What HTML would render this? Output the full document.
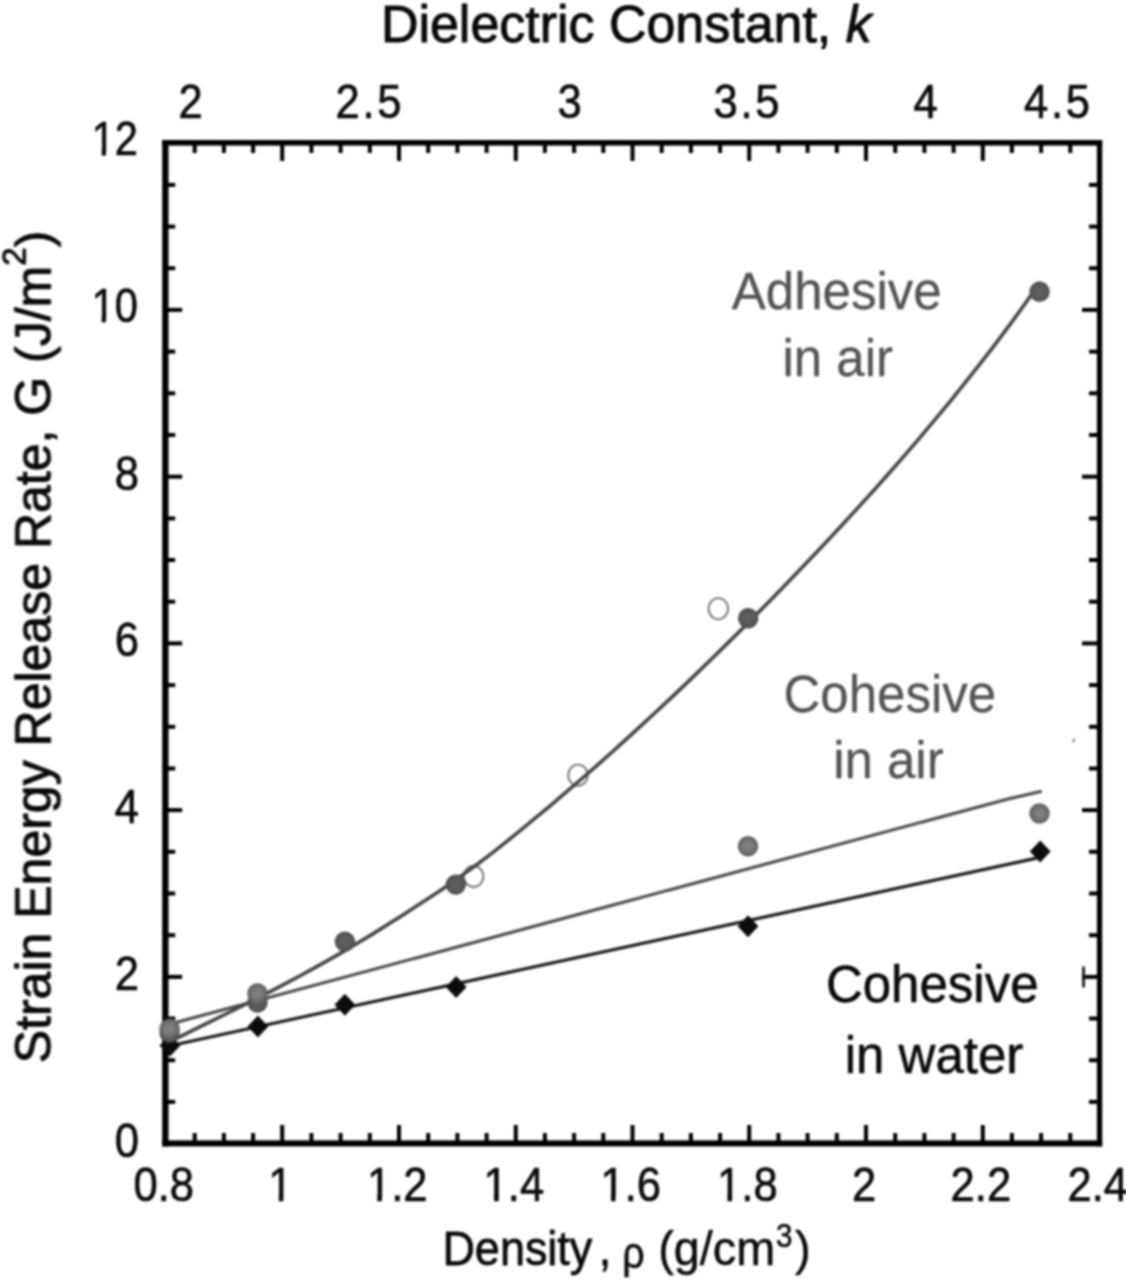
<!DOCTYPE html>
<html lang="en"><head><meta charset="utf-8"><title>Strain Energy Release Rate vs Density</title>
<style>
html,body{margin:0;padding:0;background:#fff;}
body{width:1126px;height:1280px;overflow:hidden;}
svg{display:block;font-family:"Liberation Sans",Arial,sans-serif;}
text{stroke-linejoin:round;}
.tk{font-size:49px;fill:#0a0a0a;stroke:#0a0a0a;stroke-width:0.7;}
.tt{font-size:49px;fill:#0a0a0a;stroke:#0a0a0a;stroke-width:0.7;letter-spacing:3px;}
.ti{font-size:51.5px;fill:#0a0a0a;stroke:#0a0a0a;stroke-width:1;}
.an{font-size:51px;stroke-width:0.9;}
.g{fill:#545454;stroke:#545454;stroke-width:0.3;}
.k{fill:#0a0a0a;stroke:#0a0a0a;stroke-width:0.6;}
</style></head><body>
<svg width="1126" height="1280" viewBox="0 0 1126 1280">
<defs><radialGradient id="gc"><stop offset="0" stop-color="#858585"/><stop offset="0.55" stop-color="#787878"/><stop offset="1" stop-color="#5c5c5c"/></radialGradient><radialGradient id="ga"><stop offset="0" stop-color="#606060"/><stop offset="0.6" stop-color="#5a5a5a"/><stop offset="1" stop-color="#4c4c4c"/></radialGradient><filter id="soft" color-interpolation-filters="sRGB" x="-2%" y="-2%" width="104%" height="104%"><feGaussianBlur stdDeviation="1.0"/></filter></defs>
<rect width="1126" height="1280" fill="#fff"/>
<g filter="url(#soft)">
<g fill="#000">
<rect x="162.2" y="140" width="6.3" height="1006.4"/>
<rect x="162.2" y="140" width="940" height="5.6"/>
<rect x="162.2" y="1140.4" width="940" height="6"/>
<rect x="1096.9" y="140" width="5.3" height="1006.4"/>
<rect x="192.7" y="1133.0" width="4.0" height="8"/>
<rect x="192.7" y="145" width="4.0" height="8"/>
<rect x="221.9" y="1133.0" width="4.0" height="8"/>
<rect x="221.9" y="145" width="4.0" height="8"/>
<rect x="251.1" y="1133.0" width="4.0" height="8"/>
<rect x="251.1" y="145" width="4.0" height="8"/>
<rect x="280.2" y="1125.0" width="4.0" height="16"/>
<rect x="280.2" y="145" width="4.0" height="16"/>
<rect x="309.4" y="1133.0" width="4.0" height="8"/>
<rect x="309.4" y="145" width="4.0" height="8"/>
<rect x="338.6" y="1133.0" width="4.0" height="8"/>
<rect x="338.6" y="145" width="4.0" height="8"/>
<rect x="367.8" y="1133.0" width="4.0" height="8"/>
<rect x="367.8" y="145" width="4.0" height="8"/>
<rect x="397.0" y="1125.0" width="4.0" height="16"/>
<rect x="397.0" y="145" width="4.0" height="16"/>
<rect x="426.2" y="1133.0" width="4.0" height="8"/>
<rect x="426.2" y="145" width="4.0" height="8"/>
<rect x="455.4" y="1133.0" width="4.0" height="8"/>
<rect x="455.4" y="145" width="4.0" height="8"/>
<rect x="484.6" y="1133.0" width="4.0" height="8"/>
<rect x="484.6" y="145" width="4.0" height="8"/>
<rect x="513.8" y="1125.0" width="4.0" height="16"/>
<rect x="513.8" y="145" width="4.0" height="16"/>
<rect x="542.9" y="1133.0" width="4.0" height="8"/>
<rect x="542.9" y="145" width="4.0" height="8"/>
<rect x="572.1" y="1133.0" width="4.0" height="8"/>
<rect x="572.1" y="145" width="4.0" height="8"/>
<rect x="601.3" y="1133.0" width="4.0" height="8"/>
<rect x="601.3" y="145" width="4.0" height="8"/>
<rect x="630.5" y="1125.0" width="4.0" height="16"/>
<rect x="630.5" y="145" width="4.0" height="16"/>
<rect x="659.7" y="1133.0" width="4.0" height="8"/>
<rect x="659.7" y="145" width="4.0" height="8"/>
<rect x="688.9" y="1133.0" width="4.0" height="8"/>
<rect x="688.9" y="145" width="4.0" height="8"/>
<rect x="718.1" y="1133.0" width="4.0" height="8"/>
<rect x="718.1" y="145" width="4.0" height="8"/>
<rect x="747.2" y="1125.0" width="4.0" height="16"/>
<rect x="747.2" y="145" width="4.0" height="16"/>
<rect x="776.4" y="1133.0" width="4.0" height="8"/>
<rect x="776.4" y="145" width="4.0" height="8"/>
<rect x="805.6" y="1133.0" width="4.0" height="8"/>
<rect x="805.6" y="145" width="4.0" height="8"/>
<rect x="834.8" y="1133.0" width="4.0" height="8"/>
<rect x="834.8" y="145" width="4.0" height="8"/>
<rect x="864.0" y="1125.0" width="4.0" height="16"/>
<rect x="864.0" y="145" width="4.0" height="16"/>
<rect x="893.2" y="1133.0" width="4.0" height="8"/>
<rect x="893.2" y="145" width="4.0" height="8"/>
<rect x="922.4" y="1133.0" width="4.0" height="8"/>
<rect x="922.4" y="145" width="4.0" height="8"/>
<rect x="951.6" y="1133.0" width="4.0" height="8"/>
<rect x="951.6" y="145" width="4.0" height="8"/>
<rect x="980.8" y="1125.0" width="4.0" height="16"/>
<rect x="980.8" y="145" width="4.0" height="16"/>
<rect x="1009.9" y="1133.0" width="4.0" height="8"/>
<rect x="1009.9" y="145" width="4.0" height="8"/>
<rect x="1039.1" y="1133.0" width="4.0" height="8"/>
<rect x="1039.1" y="145" width="4.0" height="8"/>
<rect x="1068.3" y="1133.0" width="4.0" height="8"/>
<rect x="1068.3" y="145" width="4.0" height="8"/>
<rect x="168" y="1099.9" width="7.2" height="4.0"/>
<rect x="1089.0" y="1099.9" width="9.0" height="4.0"/>
<rect x="168" y="1058.2" width="7.2" height="4.0"/>
<rect x="1089.0" y="1058.2" width="9.0" height="4.0"/>
<rect x="168" y="1016.5" width="7.2" height="4.0"/>
<rect x="1089.0" y="1016.5" width="9.0" height="4.0"/>
<rect x="168" y="974.9" width="14.2" height="4.0"/>
<rect x="1082.0" y="974.9" width="16.0" height="4.0"/>
<rect x="168" y="933.2" width="7.2" height="4.0"/>
<rect x="1089.0" y="933.2" width="9.0" height="4.0"/>
<rect x="168" y="891.5" width="7.2" height="4.0"/>
<rect x="1089.0" y="891.5" width="9.0" height="4.0"/>
<rect x="168" y="849.8" width="7.2" height="4.0"/>
<rect x="1089.0" y="849.8" width="9.0" height="4.0"/>
<rect x="168" y="808.1" width="14.2" height="4.0"/>
<rect x="1082.0" y="808.1" width="16.0" height="4.0"/>
<rect x="168" y="766.5" width="7.2" height="4.0"/>
<rect x="1089.0" y="766.5" width="9.0" height="4.0"/>
<rect x="168" y="724.8" width="7.2" height="4.0"/>
<rect x="1089.0" y="724.8" width="9.0" height="4.0"/>
<rect x="168" y="683.1" width="7.2" height="4.0"/>
<rect x="1089.0" y="683.1" width="9.0" height="4.0"/>
<rect x="168" y="641.4" width="14.2" height="4.0"/>
<rect x="1082.0" y="641.4" width="16.0" height="4.0"/>
<rect x="168" y="599.7" width="7.2" height="4.0"/>
<rect x="1089.0" y="599.7" width="9.0" height="4.0"/>
<rect x="168" y="558.0" width="7.2" height="4.0"/>
<rect x="1089.0" y="558.0" width="9.0" height="4.0"/>
<rect x="168" y="516.4" width="7.2" height="4.0"/>
<rect x="1089.0" y="516.4" width="9.0" height="4.0"/>
<rect x="168" y="474.7" width="14.2" height="4.0"/>
<rect x="1082.0" y="474.7" width="16.0" height="4.0"/>
<rect x="168" y="433.0" width="7.2" height="4.0"/>
<rect x="1089.0" y="433.0" width="9.0" height="4.0"/>
<rect x="168" y="391.3" width="7.2" height="4.0"/>
<rect x="1089.0" y="391.3" width="9.0" height="4.0"/>
<rect x="168" y="349.6" width="7.2" height="4.0"/>
<rect x="1089.0" y="349.6" width="9.0" height="4.0"/>
<rect x="168" y="307.9" width="14.2" height="4.0"/>
<rect x="1082.0" y="307.9" width="16.0" height="4.0"/>
<rect x="168" y="266.2" width="7.2" height="4.0"/>
<rect x="1089.0" y="266.2" width="9.0" height="4.0"/>
<rect x="168" y="224.6" width="7.2" height="4.0"/>
<rect x="1089.0" y="224.6" width="9.0" height="4.0"/>
<rect x="168" y="182.9" width="7.2" height="4.0"/>
<rect x="1089.0" y="182.9" width="9.0" height="4.0"/>
<rect x="1082.2" y="966.5" width="2.7" height="21" fill="#111"/>
</g>
<path d="M165.5 1025.3 L1008 798.9 L1040.6 791.6" fill="none" stroke="#484848" stroke-width="3.1" stroke-linecap="round" stroke-linejoin="round"/>
<line x1="165.5" y1="1046.7" x2="1040.0" y2="857.4" stroke="#1a1a1a" stroke-width="3.2" stroke-linecap="round"/>
<ellipse cx="473.6" cy="876.4" rx="9.7" ry="10.6" fill="none" stroke="#747474" stroke-width="1.9"/>
<ellipse cx="578.0" cy="775.2" rx="9.7" ry="10.6" fill="none" stroke="#747474" stroke-width="1.9"/>
<ellipse cx="718.3" cy="608.7" rx="9.7" ry="10.6" fill="none" stroke="#747474" stroke-width="1.9"/>
<path d="M165.5 1044.0 L180.3 1036.6 L195.1 1029.2 L209.9 1021.9 L224.8 1014.5 L239.6 1007.1 L254.4 999.7 L269.2 992.1 L284.0 984.4 L298.8 976.5 L313.6 968.4 L328.4 960.1 L343.3 951.6 L358.1 942.8 L372.9 933.9 L387.7 924.6 L402.5 915.2 L417.3 905.6 L432.1 895.9 L447.0 885.9 L461.8 875.5 L476.6 864.8 L491.4 853.6 L506.2 841.9 L521.0 829.9 L535.8 817.7 L550.7 805.3 L565.5 792.7 L580.3 780.0 L595.1 767.1 L609.9 754.0 L624.7 740.7 L639.5 727.2 L654.3 713.5 L669.2 699.6 L684.0 685.6 L698.8 671.4 L713.6 657.0 L728.4 642.4 L743.2 627.7 L758.0 612.8 L772.9 597.8 L787.7 582.5 L802.5 567.1 L817.3 551.6 L832.1 535.8 L846.9 519.8 L861.7 503.6 L876.6 487.2 L891.4 470.5 L906.2 453.6 L921.0 436.3 L935.8 418.7 L950.6 400.8 L965.4 382.4 L980.2 363.7 L995.1 344.4 L1009.9 324.6 L1024.7 304.2 L1039.5 283.2" fill="none" stroke="#444" stroke-width="3.6" stroke-linecap="round" stroke-linejoin="round"/>
<path d="M1072.5 742 L1075 738.8" stroke="#666" stroke-width="1.6" fill="none"/>
<path d="M159.6 1045.5L170.0 1034.5L180.4 1045.5L170.0 1056.5Z" fill="#0c0c0c"/>
<path d="M247.5 1026.6L257.9 1015.6L268.3 1026.6L257.9 1037.6Z" fill="#0c0c0c"/>
<path d="M334.5 1004.7L344.9 993.7L355.3 1004.7L344.9 1015.7Z" fill="#0c0c0c"/>
<path d="M445.8 987.0L456.2 976.0L466.6 987.0L456.2 998.0Z" fill="#0c0c0c"/>
<path d="M737.6 926.2L748.0 915.2L758.4 926.2L748.0 937.2Z" fill="#0c0c0c"/>
<path d="M1029.8 851.5L1040.2 840.5L1050.6 851.5L1040.2 862.5Z" fill="#0c0c0c"/>
<circle cx="169.6" cy="1032.8" r="10.2" fill="url(#ga)"/>
<circle cx="257.5" cy="1002.5" r="10.2" fill="url(#ga)"/>
<circle cx="344.9" cy="941.6" r="10.2" fill="url(#ga)"/>
<circle cx="455.8" cy="884.6" r="10.2" fill="url(#ga)"/>
<circle cx="748.2" cy="618.2" r="10.2" fill="url(#ga)"/>
<circle cx="1039.5" cy="291.8" r="10.2" fill="url(#ga)"/>
<circle cx="169.6" cy="1028.8" r="10.2" fill="url(#gc)"/>
<circle cx="257.5" cy="993.5" r="10.2" fill="url(#gc)"/>
<circle cx="748.0" cy="846.2" r="10.2" fill="url(#gc)"/>
<circle cx="1039.5" cy="813.5" r="10.2" fill="url(#gc)"/>
<g transform="translate(133.4 1200.7) scale(0.89 1)">
<text class="tk" x="0" y="0">0.8</text>
</g>
<g transform="translate(268.3 1200.7) scale(0.89 1)">
<text class="tk" x="0" y="0">1</text>
<rect x="2.0" y="-4.5" width="9.9" height="6.0" fill="#fff"/>
<rect x="16.8" y="-4.5" width="9.8" height="6.0" fill="#fff"/>
<rect x="11.9" y="-6.5" width="4.9" height="6.8" fill="#0a0a0a"/>
</g>
<g transform="translate(366.9 1200.7) scale(0.89 1)">
<text class="tk" x="0" y="0">1.2</text>
<rect x="2.0" y="-4.5" width="9.9" height="6.0" fill="#fff"/>
<rect x="16.8" y="-4.5" width="9.8" height="6.0" fill="#fff"/>
<rect x="11.9" y="-6.5" width="4.9" height="6.8" fill="#0a0a0a"/>
</g>
<g transform="translate(483.6 1200.7) scale(0.89 1)">
<text class="tk" x="0" y="0">1.4</text>
<rect x="2.0" y="-4.5" width="9.9" height="6.0" fill="#fff"/>
<rect x="16.8" y="-4.5" width="9.8" height="6.0" fill="#fff"/>
<rect x="11.9" y="-6.5" width="4.9" height="6.8" fill="#0a0a0a"/>
</g>
<g transform="translate(600.4 1200.7) scale(0.89 1)">
<text class="tk" x="0" y="0">1.6</text>
<rect x="2.0" y="-4.5" width="9.9" height="6.0" fill="#fff"/>
<rect x="16.8" y="-4.5" width="9.8" height="6.0" fill="#fff"/>
<rect x="11.9" y="-6.5" width="4.9" height="6.8" fill="#0a0a0a"/>
</g>
<g transform="translate(717.1 1200.7) scale(0.89 1)">
<text class="tk" x="0" y="0">1.8</text>
<rect x="2.0" y="-4.5" width="9.9" height="6.0" fill="#fff"/>
<rect x="16.8" y="-4.5" width="9.8" height="6.0" fill="#fff"/>
<rect x="11.9" y="-6.5" width="4.9" height="6.8" fill="#0a0a0a"/>
</g>
<g transform="translate(852.1 1200.7) scale(0.89 1)">
<text class="tk" x="0" y="0">2</text>
</g>
<g transform="translate(950.6 1200.7) scale(0.89 1)">
<text class="tk" x="0" y="0">2.2</text>
</g>
<g transform="translate(1067.4 1200.7) scale(0.89 1)">
<text class="tk" x="0" y="0">2.4</text>
</g>
<g transform="translate(178.4 117.6) scale(0.89 1)">
<text class="tt" x="0" y="0">2</text>
</g>
<g transform="translate(335.5 117.6) scale(0.89 1)">
<text class="tt" x="0" y="0">2.5</text>
</g>
<g transform="translate(557.4 117.6) scale(0.89 1)">
<text class="tt" x="0" y="0">3</text>
</g>
<g transform="translate(713.5 117.6) scale(0.89 1)">
<text class="tt" x="0" y="0">3.5</text>
</g>
<g transform="translate(913.4 117.6) scale(0.89 1)">
<text class="tt" x="0" y="0">4</text>
</g>
<g transform="translate(1024.0 117.6) scale(0.89 1)">
<text class="tt" x="0" y="0">4.5</text>
</g>
<g transform="translate(114.8 1156.6) scale(0.89 1)">
<text class="tk" x="0" y="0">0</text>
</g>
<g transform="translate(114.8 989.9) scale(0.89 1)">
<text class="tk" x="0" y="0">2</text>
</g>
<g transform="translate(114.8 823.1) scale(0.89 1)">
<text class="tk" x="0" y="0">4</text>
</g>
<g transform="translate(114.8 656.4) scale(0.89 1)">
<text class="tk" x="0" y="0">6</text>
</g>
<g transform="translate(114.8 489.7) scale(0.89 1)">
<text class="tk" x="0" y="0">8</text>
</g>
<g transform="translate(91.7 321.8) scale(0.85 1)">
<text class="tk" x="0" y="0">10</text>
<rect x="2.0" y="-4.5" width="9.9" height="6.0" fill="#fff"/>
<rect x="16.8" y="-4.5" width="9.8" height="6.0" fill="#fff"/>
<rect x="11.9" y="-6.5" width="4.9" height="6.8" fill="#0a0a0a"/>
</g>
<g transform="translate(91.7 155.1) scale(0.85 1)">
<text class="tk" x="0" y="0">12</text>
<rect x="2.0" y="-4.5" width="9.9" height="6.0" fill="#fff"/>
<rect x="16.8" y="-4.5" width="9.8" height="6.0" fill="#fff"/>
<rect x="11.9" y="-6.5" width="4.9" height="6.8" fill="#0a0a0a"/>
</g>
<g transform="translate(626.3 41.8) scale(1.009 1)"><text class="ti" x="0" y="0" text-anchor="middle">Dielectric Constant, <tspan font-style="italic">k</tspan></text></g>
<g transform="translate(442.4 1264.8) scale(0.918 1)"><text class="ti" style="font-size:49px;stroke-width:0.8" x="0" y="0">Density<tspan dx="7">,</tspan></text></g>
<g transform="translate(622.3 1267.6) scale(0.9 1)"><text class="ti" style="font-size:44px;stroke-width:0.5" x="0" y="0">ρ</text></g>
<g transform="translate(658.2 1265.4) scale(0.985 1)"><text class="ti" style="font-size:47.5px;stroke-width:0.5" x="0" y="0">(g/cm</text></g>
<g transform="translate(776 1247.2) scale(0.87 1)"><text class="ti" style="font-size:34px;stroke-width:0.6" x="0" y="0">3</text></g>
<text class="ti" style="font-size:47.5px;stroke-width:0.4" x="795" y="1265.4">)</text>
<text class="ti" style="font-size:50px" transform="translate(50.5 647) rotate(-90)" text-anchor="middle">Strain Energy Release Rate, G (J/m<tspan dy="-25" style="font-size:33px">2</tspan><tspan dy="25">)</tspan></text>
<text class="an g" x="836.7" y="309.2" text-anchor="middle">Adhesive</text>
<text class="an g" x="837.7" y="375.7" text-anchor="middle">in air</text>
<text class="an g" x="889.8" y="711.8" text-anchor="middle">Cohesive</text>
<text class="an g" x="888.4" y="778.4" text-anchor="middle">in air</text>
<text class="an k" x="932.2" y="1001.7" text-anchor="middle">Cohesive</text>
<text class="an k" x="934" y="1072.9" text-anchor="middle">in water</text>
</g>
</svg></body></html>
